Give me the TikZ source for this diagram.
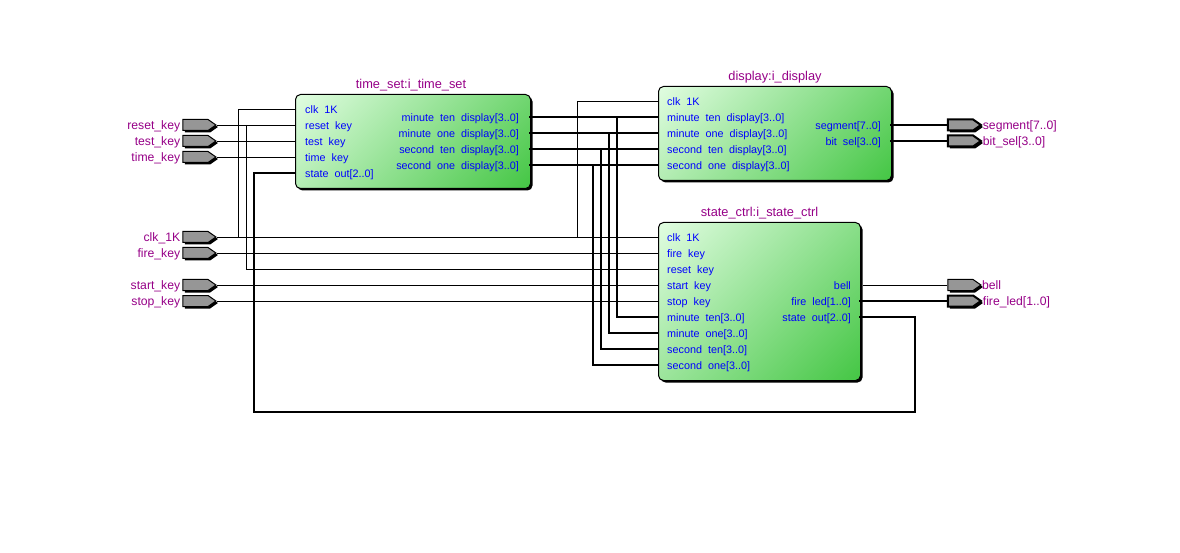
\documentclass[tikz,border=0pt]{standalone}
\usepackage{fontspec}
\setmainfont{Liberation Sans}
\usetikzlibrary{shapes, shadows, positioning, calc}

\definecolor{instname}{RGB}{150,0,135}
\definecolor{pinfill}{RGB}{150,150,150}
\definecolor{blocklight}{RGB}{225,253,225}
\definecolor{blockdark}{RGB}{68,198,68}
\pgfdeclareverticalshading{blockshade}{100bp}{color(0bp)=(blockdark); color(14.6bp)=(blockdark); color(85.4bp)=(blocklight); color(100bp)=(blocklight)}

\tikzset{
	block/.style={draw=black, line width=1pt, rounded corners=5pt, anchor=north west, inner sep=0pt,
		shading=blockshade, shading angle=45,
		drop shadow={shadow xshift=2pt, shadow yshift=-2pt, fill=black, opacity=1}},
	blocktitle/.style={text=instname, font=\fontsize{12.8}{12}\selectfont, inner sep=0pt},
	portin/.style={text=blue, font=\fontsize{10.8}{12}\selectfont, inner sep=0pt, anchor=west, text height=10pt, text depth=1pt},
	portout/.style={portin, anchor=east},
	pinin/.style={signal, signal to=east, signal pointer angle=70, draw=black, line width=1pt, fill=pinfill,
		minimum width=33pt, minimum height=11pt, inner sep=0pt,
		drop shadow={shadow xshift=2pt, shadow yshift=-2pt, fill=black, opacity=1}},
	pinout/.style={pinin, line width=2pt},
	pinname/.style={text=instname, font=\fontsize{12.2}{12}\selectfont, inner sep=0pt, text height=10pt, text depth=1pt},
	wire/.style={draw=black, line width=0.8pt},
	bus/.style={draw=black, line width=1.7pt}
}

\begin{document}
\begin{tikzpicture}[x=1pt, y=-1pt]
	\useasboundingbox (0,0) rectangle (1180,553);

	% blocks
	\node[block, minimum width=235pt, minimum height=94pt] (ts) at (295,94) {};
	\node[block, minimum width=233pt, minimum height=94pt] (dp) at (658,86) {};
	\node[block, minimum width=202pt, minimum height=158pt] (sc) at (658,222) {};
	\node[blocktitle, above=3pt of ts, xshift=-2pt] (tstitle) {time\_set:i\_time\_set};
	\node[blocktitle, above=3pt of dp] (dptitle) {display:i\_display};
	\node[blocktitle, above=3pt of sc] (sctitle) {state\_ctrl:i\_state\_ctrl};

	% time_set ports
	\node[portin] (tsclk) at (305,109) {clk~~1K};
	\node[portin] (tsreset) at (305,125) {reset~~key};
	\node[portin] (tstest) at (305,141) {test~~key};
	\node[portin] (tstime) at (305,157) {time~~key};
	\node[portin] (tsstate) at (305,173) {state~~out[2..0]};
	\node[portout] (tsmt) at (519,117) {minute~~ten~~display[3..0]};
	\node[portout] (tsmo) at (519,133) {minute~~one~~display[3..0]};
	\node[portout] (tsst) at (519,149) {second~~ten~~display[3..0]};
	\node[portout] (tsso) at (519,165) {second~~one~~display[3..0]};

	% display ports
	\node[portin] (dpclk) at (667,101) {clk~~1K};
	\node[portin] (dpmt) at (667,117) {minute~~ten~~display[3..0]};
	\node[portin] (dpmo) at (667,133) {minute~~one~~display[3..0]};
	\node[portin] (dpst) at (667,149) {second~~ten~~display[3..0]};
	\node[portin] (dpso) at (667,165) {second~~one~~display[3..0]};
	\node[portout] (dpseg) at (881,125) {segment[7..0]};
	\node[portout] (dpbit) at (881,141) {bit~~sel[3..0]};

	% state_ctrl ports
	\node[portin] (scclk) at (667,237) {clk~~1K};
	\node[portin] (scfire) at (667,253) {fire~~key};
	\node[portin] (screset) at (667,269) {reset~~key};
	\node[portin] (scstart) at (667,285) {start~~key};
	\node[portin] (scstop) at (667,301) {stop~~key};
	\node[portin] (scmt) at (667,317) {minute~~ten[3..0]};
	\node[portin] (scmo) at (667,333) {minute~~one[3..0]};
	\node[portin] (scst) at (667,349) {second~~ten[3..0]};
	\node[portin] (scso) at (667,365) {second~~one[3..0]};
	\node[portout] (scbell) at (851,285) {bell};
	\node[portout] (scled) at (851,301) {fire~~led[1..0]};
	\node[portout] (scstate) at (851,317) {state~~out[2..0]};

	% input pins
	\node[pinin] (preset) at (195.5,125) {};
	\node[pinin] (ptest) at (195.5,141) {};
	\node[pinin] (ptime) at (195.5,157) {};
	\node[pinin] (pclk) at (195.5,237) {};
	\node[pinin] (pfire) at (195.5,253) {};
	\node[pinin] (pstart) at (195.5,285) {};
	\node[pinin] (pstop) at (195.5,301) {};
	\node[pinname, left=2pt of preset] {reset\_key};
	\node[pinname, left=2pt of ptest] {test\_key};
	\node[pinname, left=2pt of ptime] {time\_key};
	\node[pinname, left=2pt of pclk] {clk\_1K};
	\node[pinname, left=2pt of pfire] {fire\_key};
	\node[pinname, left=2pt of pstart] {start\_key};
	\node[pinname, left=2pt of pstop] {stop\_key};

	% output pins
	\node[pinout] (pseg) at (960.5,125) {};
	\node[pinout] (pbit) at (960.5,141) {};
	\node[pinin] (pbell) at (960.5,285) {};
	\node[pinout] (pled) at (960.5,301) {};
	\node[pinname, right=0pt of pseg] {segment[7..0]};
	\node[pinname, right=0pt of pbit] {bit\_sel[3..0]};
	\node[pinname, right=0pt of pbell] {bell};
	\node[pinname, right=0pt of pled] {fire\_led[1..0]};

	% single wires
	\draw[wire] (preset.east) -- (preset -| ts.west);
	\draw[wire] (ptest.east) -- (ptest -| ts.west);
	\draw[wire] (ptime.east) -- (ptime -| ts.west);
	\draw[wire] (pclk.east) -- (pclk -| sc.west);
	\draw[wire] (pfire.east) -- (pfire -| sc.west);
	\draw[wire] (pstart.east) -- (pstart -| sc.west);
	\draw[wire] (pstop.east) -- (pstop -| sc.west);
	\draw[wire] (238.5,0 |- pclk) -- (238.5,0 |- tsclk) -- (tsclk -| ts.west);
	\draw[wire] (246.5,0 |- preset) -- (246.5,0 |- screset) -- (screset -| sc.west);
	\draw[wire] (577.5,0 |- pclk) -- (577.5,0 |- dpclk) -- (dpclk -| dp.west);
	\draw[wire] (scbell -| sc.east) ++(2,0) -- (pbell.west);

	% buses
	\draw[bus] (tsmt -| ts.east) ++(-2,0) -- (dpmt -| dp.west);
	\draw[bus] (tsmo -| ts.east) ++(-2,0) -- (dpmo -| dp.west);
	\draw[bus] (tsst -| ts.east) ++(-2,0) -- (dpst -| dp.west);
	\draw[bus] (tsso -| ts.east) ++(-2,0) -- (dpso -| dp.west);
	\draw[bus] (617,0 |- tsmt) -- (617,0 |- scmt) -- (scmt -| sc.west);
	\draw[bus] (609,0 |- tsmo) -- (609,0 |- scmo) -- (scmo -| sc.west);
	\draw[bus] (601,0 |- tsst) -- (601,0 |- scst) -- (scst -| sc.west);
	\draw[bus] (593,0 |- tsso) -- (593,0 |- scso) -- (scso -| sc.west);
	\draw[bus] (dpseg -| dp.east) ++(-2,0) -- (pseg.west);
	\draw[bus] (dpbit -| dp.east) ++(-2,0) -- (pbit.west);
	\draw[bus] (scled -| sc.east) ++(-2,0) -- (pled.west);
	\draw[bus] (tsstate -| ts.west) -- (254,0 |- tsstate) -- (254,412) -- (915,412) -- (915,0 |- scstate) -- ($(scstate -| sc.east)+(-2,0)$);
\end{tikzpicture}
\end{document}
